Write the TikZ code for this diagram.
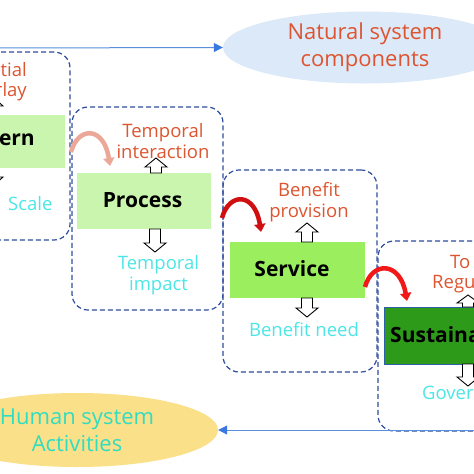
\documentclass[tikz,border=0pt]{standalone}
\usepackage{fontspec}
\setmainfont{Open Sans}
\usetikzlibrary{shapes.geometric,arrows.meta}
\definecolor{orangeT}{HTML}{DD5530}
\definecolor{cyanT}{HTML}{4DE6E6}
\definecolor{humanT}{HTML}{30DDC0}
\definecolor{natFill}{HTML}{DCE9F8}
\definecolor{humFill}{HTML}{FBE08A}
\definecolor{paleGreen}{HTML}{C9F5AE}
\definecolor{srvGreen}{HTML}{9BEE5E}
\definecolor{susGreen}{HTML}{2E9A1A}
\definecolor{susBorder}{HTML}{2F5FA8}
\definecolor{dashBlue}{HTML}{2F4E9E}
\definecolor{flowBlue}{HTML}{5A8FDC}
\definecolor{flowHead}{HTML}{3A78E0}
\definecolor{pinkArr}{HTML}{EBA898}
\definecolor{redA}{HTML}{D01010}
\definecolor{redB}{HTML}{F01818}
\tikzset{
  dashbox/.style={draw=dashBlue, line width=1.2pt, dash pattern=on 5pt off 3pt, rounded corners=16pt, inner sep=0pt},
  gbox/.style={inner sep=0pt},
  ntext/.style={inner sep=0pt, font=\fontsize{18.5}{21.5}\selectfont, align=center},
  btext/.style={inner sep=0pt, font=\fontsize{21}{24}\selectfont\bfseries, text=black},
  ell/.style={ellipse, inner sep=0pt, font=\fontsize{22}{27}\selectfont, align=center},
  hollowarr/.style={draw=black, fill=white, line width=0.9pt, line join=miter},
  flow/.style={draw=flowBlue, line width=1pt, -{Triangle[width=9pt,length=9pt,fill=flowHead,color=flowHead]}},
  curvearr/.style={line width=4.5pt, -{Triangle[width=11pt,length=8pt]}}
}
% #1 = x, #2 = base y, #3 = head-base y, #4 = tip y
\newcommand{\blockarrowshape}[4]{%
  \path[hollowarr] (#1-5.5,#2) -- (#1-5.5,#3) -- (#1-11,#3) -- (#1,#4) -- (#1+11,#3) -- (#1+5.5,#3) -- (#1+5.5,#2) -- cycle;}
\begin{document}
\begin{tikzpicture}[x=1pt,y=-1pt]
\useasboundingbox (0,0) rectangle (474,474);
\clip (0,0) rectangle (474,474);
\fill[white] (0,0) rectangle (474,474);

% ellipses
\node[ell, fill=natFill, text=orangeT, minimum width=284pt, minimum height=72pt] (nat) at (365,47.5) {Natural system\\components};
\node[ell, fill=humFill, text=humanT, minimum width=282pt, minimum height=74pt] (hum) at (77,430) {Human system\\Activities};

% dashed group boxes
\node[dashbox, minimum width=170pt, minimum height=188pt] (patgrp) at (-15,146) {};
\node[dashbox, minimum width=151pt, minimum height=203pt] (progrp) at (147.5,208.5) {};
\node[dashbox, minimum width=154pt, minimum height=202pt] (srvgrp) at (300,271) {};
\node[dashbox, minimum width=182pt, minimum height=190pt] (susgrp) at (469,336) {};

% green boxes
\node[gbox, fill=paleGreen, minimum width=125pt, minimum height=53pt] (pat) at (2.5,141.5) {};
\node[btext, anchor=east] (patT) at (35,140) {ern};
\node[gbox, fill=paleGreen, minimum width=134pt, minimum height=56pt] (pro) at (144,201) {};
\node[btext] (proT) at (142.5,200) {Process};
\node[gbox, fill=srvGreen, minimum width=135pt, minimum height=56pt] (srv) at (297.5,270) {};
\node[btext] (srvT) at (292,269) {Service};
\node[gbox, fill=susGreen, draw=susBorder, line width=1pt, minimum width=176pt, minimum height=57pt] (sus) at (472,335.5) {};
\node[btext, anchor=west] (susT) at (390,335) {Sustaina};

% texts
\node[ntext, text=orangeT, anchor=east] (t1) at (27,70) {tial};
\node[ntext, text=orangeT, anchor=east] (t2) at (27,92) {rlay};
\node[ntext, text=cyanT, anchor=west] (scale) at (8,204) {Scale};
\node[ntext, text=orangeT] (tint) at (163,141) {Temporal\\interaction};
\node[ntext, text=cyanT] (timp) at (158.5,275) {Temporal\\impact};
\node[ntext, text=orangeT] (bprov) at (309,202) {Benefit\\provision};
\node[ntext, text=cyanT] (bneed) at (304,330) {Benefit need};
\node[ntext, text=orangeT, anchor=west] (to) at (450,262) {To};
\node[ntext, text=orangeT, anchor=west] (regu) at (432,284) {Regu};
\node[ntext, text=cyanT, anchor=west] (gov) at (422,393) {Gover};

% hollow block arrows
\blockarrowshape{-8}{115}{106}{96}
\blockarrowshape{-8}{168}{177}{187}
\blockarrowshape{156}{173}{167}{158}
\blockarrowshape{155}{229}{243}{252}
\blockarrowshape{307}{242}{232}{223}
\blockarrowshape{307}{298}{308}{317}
\blockarrowshape{468}{307}{303}{295}
\blockarrowshape{468}{364}{377}{386}

% flow arrows
\coordinate (tstart) at (-5,48);
\coordinate (bstart) at (480,430);
\draw[flow] (tstart) -- (nat.west);
\draw[flow] (bstart) -- (hum.east);

% curved arrows
\coordinate (c1s) at (71,152);
\coordinate (c1e) at (110,166);
\draw[curvearr, draw=pinkArr, color=pinkArr] (c1s) .. controls (78,126) and (104,126) .. (c1e);
\coordinate (c2s) at (222,218);
\coordinate (c2e) at (261,232);
\draw[curvearr, draw=redA, color=redA] (c2s) .. controls (229,192) and (255,192) .. (c2e);
\coordinate (c3s) at (365,287);
\coordinate (c3e) at (407,301);
\draw[curvearr, draw=redB, color=redB] (c3s) .. controls (372,261) and (400,261) .. (c3e);
\end{tikzpicture}
\end{document}
